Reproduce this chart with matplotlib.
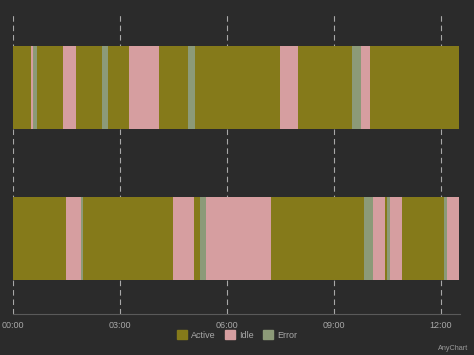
import matplotlib
matplotlib.use("Agg")
import matplotlib.pyplot as plt
from matplotlib.patches import Rectangle

plt.rcParams["font.family"] = ["Liberation Sans", "DejaVu Sans"]

# Data: (start_hour, end_hour, state) per row
row_names = ["Machine A", "Machine B"]
row1_starts = [0.0, 0.488, 0.561, 0.657, 1.404, 1.752, 2.49, 2.66, 3.25, 4.08, 4.91, 5.09, 7.49, 7.99, 9.51, 9.75, 10.01]
row1_ends   = [0.488, 0.561, 0.657, 1.404, 1.752, 2.49, 2.66, 3.25, 4.08, 4.91, 5.09, 7.49, 7.99, 9.51, 9.75, 10.01, 12.50]
row1_states = ["Active", "Idle", "Error", "Active", "Idle", "Active", "Error", "Active", "Idle", "Active", "Error", "Active", "Idle", "Active", "Error", "Idle", "Active"]

row2_starts = [0.0, 1.48, 1.90, 1.965, 4.49, 5.07, 5.24, 5.40, 7.24, 9.85, 10.09, 10.43, 10.48, 10.57, 10.92, 12.09, 12.17]
row2_ends   = [1.48, 1.90, 1.965, 4.49, 5.07, 5.24, 5.40, 7.24, 9.85, 10.09, 10.43, 10.48, 10.57, 10.92, 12.09, 12.17, 12.50]
row2_states = ["Active", "Idle", "Error", "Active", "Idle", "Active", "Error", "Idle", "Active", "Error", "Idle", "Active", "Error", "Idle", "Active", "Error", "Idle"]

states = ["Active", "Idle", "Error"]
tick_hours = [0, 3, 6, 9, 12]
tick_labels = ["00:00", "03:00", "06:00", "09:00", "12:00"]

colors = {"Active": "#857a1a", "Idle": "#d69ea0", "Error": "#8c9a78"}
bg = "#2b2b2b"
txt = "#a8a8a8"

fig = plt.figure(figsize=(4.74, 3.55), dpi=100, facecolor=bg)
ax = fig.add_axes([13.3 / 474, (355 - 314) / 355, (460 - 13.3) / 474, 302 / 355])
ax.set_facecolor(bg)

rows = [(row1_starts, row1_ends, row1_states), (row2_starts, row2_ends, row2_states)]
bar_h = 83 / 151
for i, (s, e, st) in enumerate(rows):
    for a, b, c in zip(s, e, st):
        ax.barh(i + 0.5, b - a, left=a, height=bar_h, color=colors[c], linewidth=0, zorder=3)

ax.set_xlim(0, (460 - 13.3) / 35.62)
ax.set_ylim(2, 0)
ax.set_xticks(tick_hours)
ax.set_xticklabels(tick_labels, color=txt, fontsize=6.5)
ax.tick_params(axis="x", length=0, pad=5)
ax.set_yticks([])
for sp in ["top", "right", "left"]:
    ax.spines[sp].set_visible(False)
ax.spines["bottom"].set_color("#5a5a5a")
ax.spines["bottom"].set_linewidth(0.8)
for h in tick_hours:
    ax.axvline(h, color="#a8a8a8", linestyle=(0, (5, 3.5)), linewidth=0.8, zorder=1)

# Legend
leg_handles = [Rectangle((0, 0), 1, 1, color=colors[s]) for s in states]
leg = fig.legend(leg_handles, states, loc="center", bbox_to_anchor=(237 / 474, (355 - 335) / 355),
                 ncol=3, frameon=False, fontsize=6.5, handlelength=1.1, handleheight=1.1,
                 handletextpad=0.5, columnspacing=1.0, labelcolor=txt)

fig.text(468 / 474, (355 - 348) / 355, "AnyChart", color="#9a9a9a", fontsize=5.2, ha="right", va="center")

fig.savefig("out.png", dpi=100, facecolor=bg)
